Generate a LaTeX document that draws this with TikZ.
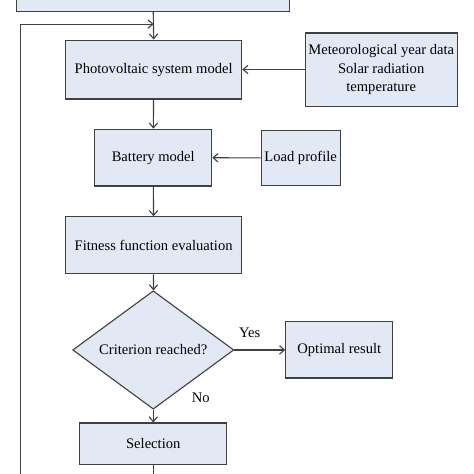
\documentclass[tikz,border=0pt]{standalone}
\usepackage{fontspec}
\setmainfont{Liberation Serif}
\usepackage{tikz}
\usetikzlibrary{shapes.geometric, arrows.meta, positioning, calc}

\definecolor{boxfill}{RGB}{226,233,245}
\definecolor{linegray}{RGB}{64,64,64}

\begin{document}
\begin{tikzpicture}[
    box/.style={rectangle, draw=linegray, line width=0.8pt, fill=boxfill, align=center, inner sep=2pt, font=\fontsize{10.5}{13.4}\selectfont},
    decision/.style={diamond, draw=linegray, line width=0.8pt, fill=boxfill, inner sep=0pt, align=center, font=\fontsize{10.5}{13.4}\selectfont},
    lbl/.style={font=\fontsize{10.5}{12}\selectfont},
    arrow/.style={-{Straight Barb[length=3.5pt,width=6pt]}, draw=linegray, line width=0.8pt}
]
\clip (0,0) rectangle (12,12);
\fill[white] (0,0) rectangle (12,12);

% Bloques principales
\node[box, minimum width=6.91cm, minimum height=1.04cm] (init) at (3.88,12.24) {};
\node[box, minimum width=4.46cm, minimum height=1.49cm] (pv) at (3.89,10.24) {Photovoltaic system model};
\node[box, minimum width=2.96cm, minimum height=1.44cm] (bat) at (3.88,8.01) {Battery model};
\node[box, minimum width=4.46cm, minimum height=1.44cm] (fit) at (3.89,5.79) {Fitness function evaluation};
\node[decision, minimum width=4.08cm, minimum height=2.18cm] (crit) at (3.88,3.14) {Criterion reached?};
\node[box, minimum width=3.72cm, minimum height=1.04cm] (sel) at (3.88,0.77) {Selection};

% Entradas y salida
\node[box, minimum width=3.85cm, minimum height=1.85cm] (meteo) at (9.65,10.24) {Meteorological year data\\Solar radiation\\temperature};
\node[box, minimum width=2.0cm, minimum height=1.37cm, inner sep=1pt] (load) at (7.61,8.0) {Load profile};
\node[box, minimum width=2.71cm, minimum height=1.42cm] (opt) at (8.59,3.14) {Optimal result};

% Lazo de realimentacion
\coordinate (loop) at (0.53,11.39);

% Flechas
\draw[arrow] (init.south) -- (pv.north);
\draw[arrow] (meteo) -- (pv);
\draw[arrow] (pv) -- (bat);
\draw[arrow] (load) -- (bat);
\draw[arrow] (bat) -- (fit);
\draw[arrow] (fit) -- (crit);
\draw[arrow] (crit) -- node[lbl, above=5pt, pos=0.3] {Yes} (opt);
\draw[arrow] (crit) -- node[lbl, right=24pt, pos=0.08, yshift=9pt] {No} (sel);
\draw[arrow] (sel.south) -- ++(0,-0.6) -| (loop) -- (loop -| pv.north);

\end{tikzpicture}
\end{document}
